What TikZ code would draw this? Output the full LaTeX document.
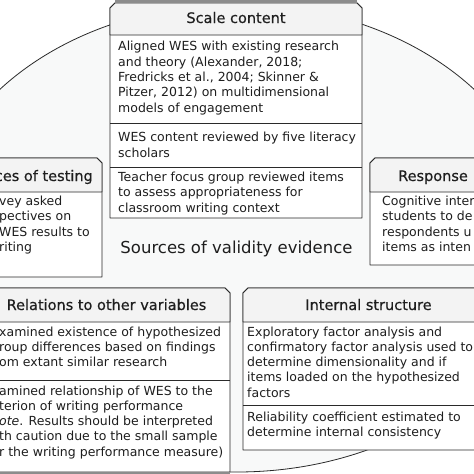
\documentclass[tikz,border=0pt]{standalone}
\usepackage{fontspec}
\setmainfont{DejaVu Sans}
\newfontfamily\headfont{DejaVu Sans}[FakeBold=0.45]
\definecolor{boxline}{HTML}{2A2A2A}
\definecolor{headfill}{HTML}{F3F3F3}
\definecolor{ringfill}{HTML}{F8F9F9}
\definecolor{inkcol}{HTML}{1E1E1E}
\definecolor{bandcol}{HTML}{8C8C8C}

\begin{document}
\begin{tikzpicture}[x=1pt,y=-1pt]
\tikzset{
  ring/.style={draw=boxline,line width=0.8pt,fill=ringfill},
  panel/.style={draw=boxline,line width=0.9pt,fill=white,line join=round},
  panelhead/.style={panel,fill=headfill},
  divider/.style={draw=boxline,line width=0.9pt},
  band/.style={draw=bandcol,line width=2.6pt},
  headtext/.style={anchor=base,inner sep=0pt,font=\headfont\fontsize{14.5}{17}\selectfont,text=inkcol},
  bodytext/.style={anchor=north west,inner sep=0pt,align=left,font=\fontsize{12.5}{15.3}\selectfont,text=inkcol,execute at begin node=\strut},
  titletext/.style={anchor=base,inner sep=0pt,font=\fontsize{16.5}{20}\selectfont,text=inkcol}
}
\useasboundingbox (0,0) rectangle (474,474);
\path[ring] (237,238) ellipse [x radius=307, y radius=234];
% scale content
\path[panel] (110,218) -- (110,8) -- (115,3) -- (357,3) -- (362,8) -- (362,218) -- cycle;
\path[panelhead] (110,35) -- (110,8) -- (115,3) -- (357,3) -- (362,8) -- (362,35) -- cycle;
\draw[divider] (110,123) -- (362,123);
\draw[divider] (110,167) -- (362,167);
\draw[band] (115,1.3) -- (357,1.3);
% consequences of testing
\path[panel] (-10,277) -- (-10,158) -- (97,158) -- (102,163) -- (102,277) -- cycle;
\path[panelhead] (-10,192) -- (-10,158) -- (97,158) -- (102,163) -- (102,192) -- cycle;
% response
\path[panel] (370,265) -- (370,163) -- (375,158) -- (490,158) -- (490,265) -- cycle;
\path[panelhead] (370,192) -- (370,163) -- (375,158) -- (490,158) -- (490,192) -- cycle;
% relations to other variables
\path[panel] (-10,472) -- (-10,288) -- (225,288) -- (230,293) -- (230,472) -- cycle;
\path[panelhead] (-10,322) -- (-10,288) -- (225,288) -- (230,293) -- (230,322) -- cycle;
\draw[divider] (-10,380) -- (230,380);
\draw[band] (-10,473.5) -- (230,473.5);
% internal structure
\path[panel] (243,450) -- (243,293) -- (248,288) -- (490,288) -- (490,450) -- cycle;
\path[panelhead] (243,322) -- (243,293) -- (248,288) -- (490,288) -- (490,322) -- cycle;
\draw[divider] (243,405) -- (490,405);

\node[headtext] (n_scalehead) at (236,23) {Scale content};
\node[bodytext] (n_scale1) at (118,41.3) {Aligned WES with existing research\\and theory (Alexander, 2018;\\Fredricks et al., 2004; Skinner \&\\Pitzer, 2012) on multidimensional\\models of engagement};
\node[bodytext] (n_scale2) at (118,132.3) {WES content reviewed by five literacy\\scholars};
\node[bodytext] (n_scale3) at (118,171.8) {Teacher focus group reviewed items\\to assess appropriateness for\\classroom writing context};

\node[headtext,anchor=base east] (n_testhead) at (93,181) {ces of testing};
\node[bodytext] (n_test1) at (-1,195.8) {vey asked\\pectives on\\WES results to\\riting};

\node[headtext,anchor=base west] (n_resphead) at (398,181) {Response};
\node[bodytext] (n_resp1) at (382,195.8) {Cognitive inter\\students to de\\respondents u\\items as inten};

\node[titletext] (n_title) at (236.5,253) {Sources of validity evidence};

\node[headtext] (n_relhead) at (106.5,310) {Relations to other variables};
\node[bodytext] (n_rel1) at (-1,326.3) {xamined existence of hypothesized\\roup differences based on findings\\om extant similar research};
\node[bodytext] (n_rel2) at (-1,385.3) {amined relationship of WES to the\\terion of writing performance\\\textit{ote}. Results should be interpreted\\th caution due to the small sample\\r the writing performance measure)};

\node[headtext] (n_inthead) at (368.5,310) {Internal structure};
\node[bodytext] (n_int1) at (247,326.3) {Exploratory factor analysis and\\confirmatory factor analysis used to\\determine dimensionality and if\\items loaded on the hypothesized\\factors};
\node[bodytext] (n_int2) at (247,411.3) {Reliability coefficient estimated to\\determine internal consistency};
\end{tikzpicture}
\end{document}
